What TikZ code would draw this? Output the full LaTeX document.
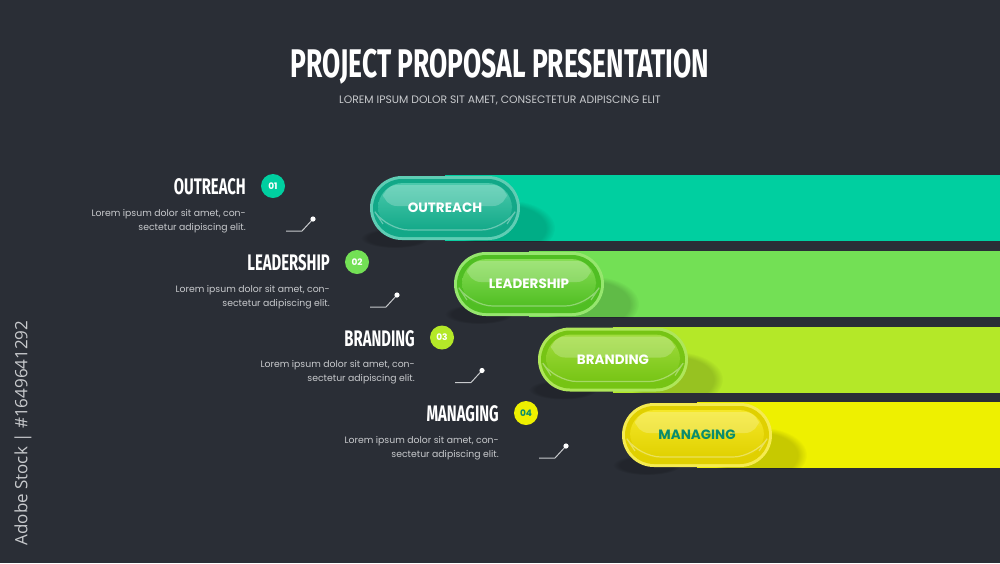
\documentclass[tikz,border=0pt]{standalone}
\usepackage{fontspec}
\setmainfont{Poppins}
\newfontfamily\condfont[FakeStretch=0.66]{Fira Sans}
\newfontfamily\wmfont{Open Sans}
\usetikzlibrary{calc,fadings}
\definecolor{bgc}{RGB}{42,46,54}
\definecolor{greytxt}{RGB}{200,202,205}
\definecolor{tealbar}{RGB}{0,207,160}
\definecolor{tealbase}{RGB}{18,168,136}
\definecolor{tealbrd}{RGB}{95,205,180}
\definecolor{teallt}{RGB}{75,202,172}
\definecolor{grnbar}{RGB}{115,224,85}
\definecolor{grnbase}{RGB}{80,190,35}
\definecolor{grnbrd}{RGB}{150,230,110}
\definecolor{grnlt}{RGB}{135,222,85}
\definecolor{limbar}{RGB}{180,232,40}
\definecolor{limbase}{RGB}{118,196,20}
\definecolor{limbrd}{RGB}{175,230,90}
\definecolor{limlt}{RGB}{160,220,60}
\definecolor{yelbar}{RGB}{238,240,0}
\definecolor{yelbase}{RGB}{224,208,0}
\definecolor{yelbrd}{RGB}{245,235,80}
\definecolor{yellt}{RGB}{245,232,40}
\definecolor{mantxt}{RGB}{10,140,110}
\tikzset{
  titletxt/.style={text=white,font=\condfont\bfseries\fontsize{40}{42}\selectfont,inner sep=0pt},
  subtxt/.style={text=greytxt,font=\fontsize{10.8}{12}\selectfont,inner sep=0pt},
  headtxt/.style={text=white,font=\condfont\bfseries\fontsize{22.5}{25}\selectfont,inner sep=0pt,anchor=east},
  numc/.style={circle,minimum size=24pt,inner sep=0pt,font=\bfseries\fontsize{9}{10}\selectfont},
  loremtxt/.style={text=greytxt,font=\fontsize{9.3}{14}\selectfont,inner sep=0pt,anchor=north east,align=right},
  pilltxt/.style={font=\bfseries\fontsize{13.5}{14}\selectfont,inner sep=0pt},
  conn/.style={draw=greytxt,line width=1pt},
  wmtxt/.style={text=greytxt,font=\wmfont\fontsize{17}{18}\selectfont,inner sep=0pt,rotate=90}
}
\newcommand{\myrow}[9]{%
 % #1 name #2 cx #3 yc #4 prefix #5 label #6 label colour #7 left x #8 number #9 number colour
 \fill[#4bar] (#2,#3-33) rectangle (1000,#3+33);
 \begin{scope}
  \clip (#2,#3-33) rectangle (1000,#3+33);
  \fill[black,opacity=0.16,path fading=circle with fuzzy edge 20 percent] (#2+62,#3+20) ellipse (48 and 28);
 \end{scope}
 \fill[black,opacity=0.18,path fading=circle with fuzzy edge 20 percent] (#2-50,#3+30) ellipse (34 and 10);
 \fill[#4brd,rounded corners=32] (#2-75,#3-32) rectangle (#2+75,#3+32);
 \fill[#4base,rounded corners=29] (#2-72,#3-29) rectangle (#2+72,#3+29);
 \shade[top color=#4lt,bottom color=#4base,rounded corners=25] (#2-67,#3-25) rectangle (#2+67,#3+23);
 \fill[white,opacity=0.22,rounded corners=14] (#2-62,#3-23) rectangle (#2+62,#3-2);
 \draw[white,opacity=0.35,line width=1.2pt,rounded corners=22] (#2-62,#3+16) -- (#2-58,#3+22) -- (#2+58,#3+22) -- (#2+62,#3+16);
 \node[pilltxt,text=#6] (p#1) at (#2,#3) {#5};
 \node[headtxt] (h#1) at (#7,#3-21) {#5};
 \node[numc,fill=#4bar,text=#9] (n#1) at (#7+27,#3-22) {#8};
 \node[loremtxt] (l#1) at (#7,#3+1) {Lorem ipsum dolor sit amet, con-\\sectetur adipiscing elit.};
 \coordinate (a#1) at (#7+40,#3+23);
 \coordinate (b#1) at (#7+56,#3+23);
 \coordinate (c#1) at (#7+67,#3+11);
 \draw[conn] (a#1) -- (b#1) -- (c#1);
 \fill[white] (c#1) circle (2.6);
}
\begin{document}
\begin{tikzpicture}[x=1pt,y=-1pt]
\useasboundingbox (0,0) rectangle (1000,563);
\fill[bgc] (0,0) rectangle (1000,563);
\node[titletxt] (title) at (500,67) {PROJECT PROPOSAL PRESENTATION};
\node[subtxt] (sub) at (500,100) {LOREM IPSUM DOLOR SIT AMET, CONSECTETUR ADIPISCING ELIT};
\myrow{4}{697}{435}{yel}{MANAGING}{mantxt}{499}{04}{mantxt}
\myrow{3}{613}{359.5}{lim}{BRANDING}{white}{415}{03}{white}
\myrow{2}{529}{284}{grn}{LEADERSHIP}{white}{330}{02}{white}
\myrow{1}{445}{208}{teal}{OUTREACH}{white}{246}{01}{white}
\node[wmtxt] (wm) at (23,433) {Adobe Stock | \#1649641292};
\end{tikzpicture}
\end{document}
